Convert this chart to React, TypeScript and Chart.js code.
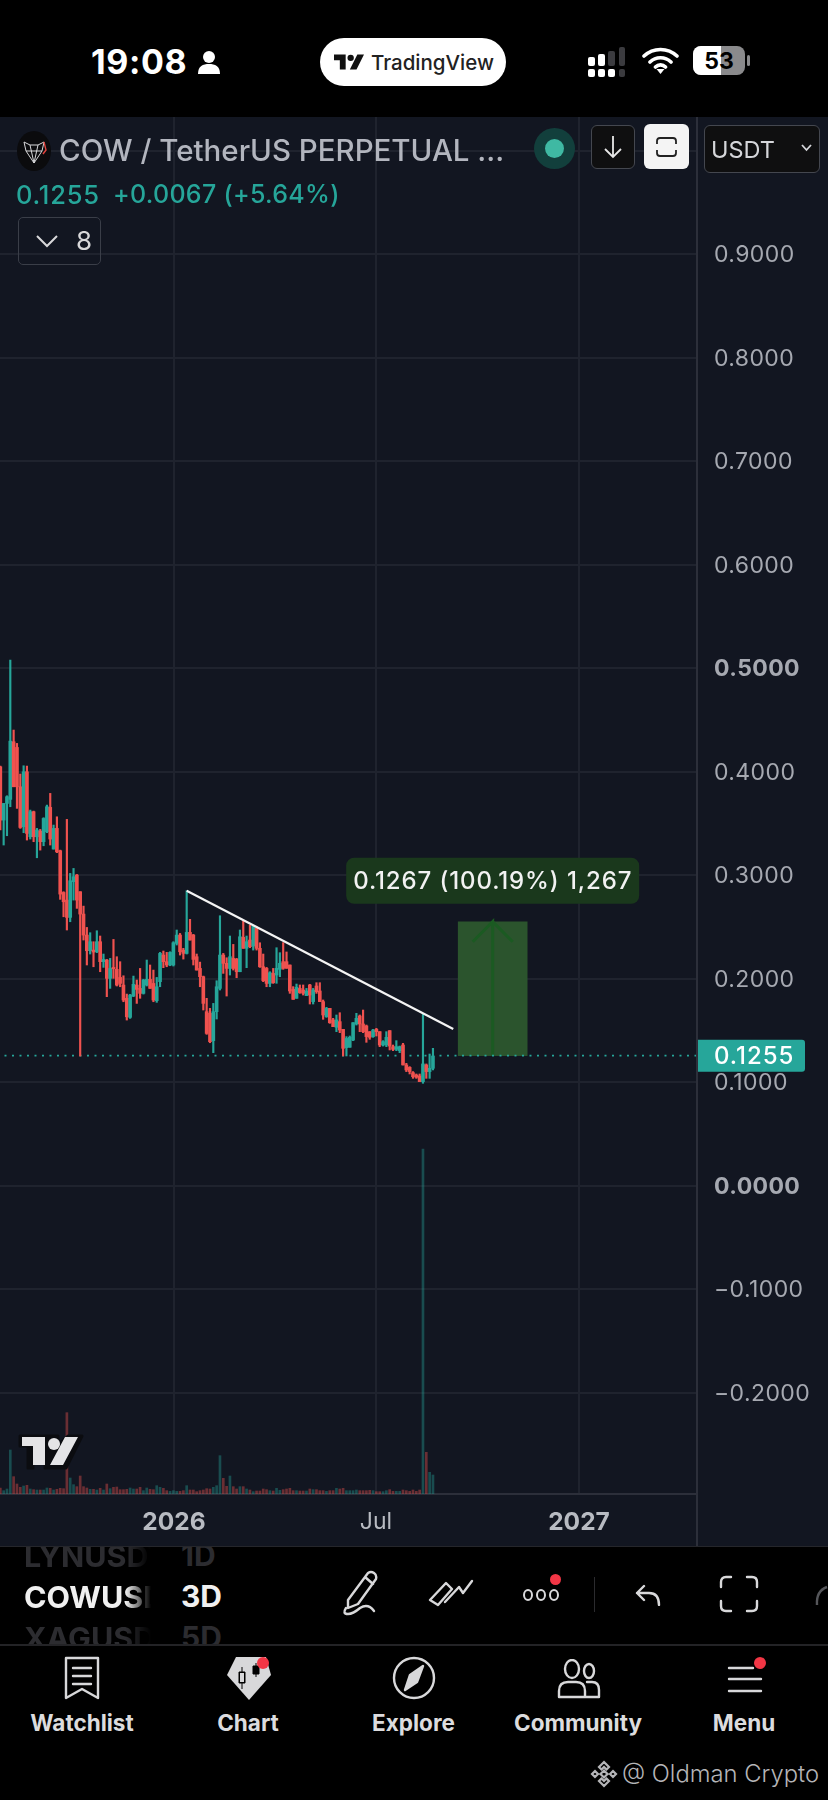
import React, { useEffect, useRef } from "react";
import Chart from "chart.js/auto";

// Candles, one every three days.
const opens = [.4046,.3531,.3692,.3731,.4288,.4233,.3853,.3467,.3998,.3370,.3612,.3370,.3425,.3322,.3419,.3654,.3251,.3451,.3235,.2832,.2758,.2591,.2936,.3000,.2839,.2623,.2420,.2269,.2275,.2259,.2356,.2163,.2179,.2002,.2108,.2089,.2011,.1937,.1809,.1625,.1831,.1937,.1905,.1857,.1937,.1992,.1953,.1786,.1970,.2227,.2163,.2131,.2131,.2340,.2420,.2275,.2243,.2446,.2420,.2211,.2098,.2018,.1680,.1664,.1400,.1680,.1905,.2227,.2147,.2098,.2195,.2188,.2066,.2398,.2292,.2372,.2314,.2485,.2292,.2114,.2098,.1953,.2050,.2034,.2089,.2163,.2163,.2131,.1896,.1809,.1905,.1889,.1835,.1938,.1777,.1928,.1880,.1777,.1632,.1712,.1600,.1529,.1584,.1509,.1332,.1336,.1406,.1561,.1638,.1561,.1542,.1487,.1439,.1509,.1487,.1358,.1358,.1497,.1342,.1316,.1303,.1358,.1165,.1142,.1091,.1068,.1059,.1004,.1165,.1101,.1133];
const highs = [.4053,.3692,.3766,.5077,.4401,.4272,.3976,.4056,.4053,.3628,.3618,.3451,.3441,.3554,.3676,.3789,.3483,.3563,.3241,.2839,.3538,.3016,.3064,.3006,.2839,.2700,.2494,.2443,.2356,.2462,.2411,.2237,.2185,.2195,.2378,.2211,.2163,.2027,.1850,.1847,.2024,.1986,.2098,.1992,.2179,.2131,.2082,.2011,.2253,.2266,.2253,.2259,.2356,.2469,.2436,.2292,.2849,.2572,.2427,.2237,.2159,.2024,.1809,.1712,.1760,.1979,.2607,.2243,.2201,.2411,.2330,.2195,.2469,.2556,.2411,.2517,.2507,.2501,.2346,.2237,.2108,.2066,.2098,.2298,.2250,.2347,.2257,.2131,.1922,.1947,.1938,.1938,.1905,.1944,.1905,.1960,.1960,.1793,.1722,.1712,.1616,.1648,.1670,.1509,.1439,.1445,.1574,.1664,.1648,.1696,.1551,.1487,.1509,.1519,.1487,.1400,.1487,.1497,.1358,.1400,.1348,.1374,.1181,.1149,.1101,.1078,.1078,.1654,.1175,.1271,.1326];
const lows = [.3435,.3290,.3380,.3660,.3853,.3644,.3451,.3409,.3338,.3348,.3322,.3167,.3241,.3283,.3409,.3290,.3251,.3216,.2765,.2597,.2469,.2549,.2758,.2678,.1251,.2372,.2131,.2237,.2114,.2250,.2066,.2108,.1825,.1905,.2002,.1928,.1921,.1776,.1599,.1615,.1825,.1760,.1809,.1850,.1928,.1905,.1776,.1770,.1921,.2105,.2114,.2124,.2121,.2324,.2227,.2188,.2237,.2372,.2131,.2082,.1921,.1696,.1461,.1380,.1284,.1609,.1889,.2050,.1831,.2034,.2082,.2008,.2066,.2292,.2105,.2298,.2275,.2275,.2108,.1970,.1921,.1921,.1953,.1954,.2018,.2089,.2099,.1857,.1799,.1809,.1857,.1841,.1835,.1754,.1754,.1857,.1777,.1606,.1625,.1567,.1535,.1487,.1477,.1252,.1252,.1336,.1400,.1551,.1487,.1477,.1384,.1413,.1432,.1445,.1342,.1348,.1342,.1310,.1303,.1303,.1284,.1165,.1101,.1078,.1036,.1036,.1004,.0988,.1036,.1036,.1117];
const closes = [.3531,.3692,.3757,.4294,.3853,.3853,.3460,.3998,.3402,.3612,.3370,.3435,.3322,.3547,.3660,.3348,.3451,.3225,.2816,.2742,.2591,.2945,.2984,.2758,.2623,.2420,.2269,.2356,.2256,.2356,.2163,.2185,.2002,.2098,.2095,.1937,.1953,.1792,.1631,.1841,.1944,.1895,.1857,.1986,.1992,.1905,.1792,.1921,.2243,.2163,.2131,.2253,.2346,.2420,.2259,.2243,.2446,.2372,.2185,.2082,.2018,.1760,.1470,.1390,.1680,.1921,.2227,.2147,.2098,.2211,.2098,.2066,.2404,.2292,.2356,.2308,.2507,.2292,.2114,.1979,.1953,.2056,.1960,.2099,.2147,.2099,.2099,.1880,.1799,.1915,.1864,.1857,.1880,.1841,.1889,.1873,.1777,.1648,.1712,.1574,.1535,.1600,.1503,.1326,.1422,.1432,.1574,.1616,.1561,.1487,.1439,.1432,.1503,.1487,.1358,.1390,.1432,.1348,.1316,.1342,.1342,.1165,.1117,.1101,.1052,.1046,.1004,.1175,.1101,.1133,.1252];
const volumes = [18,10,15,132,52,30,20,24,26,15,13,12,12,12,18,17,12,14,17,16,244,48,28,22,54,22,18,14,14,12,17,12,30,16,20,21,13,13,14,18,15,15,20,10,18,14,13,25,20,17,10,8,10,8,8,10,25,12,12,7,10,12,16,15,20,25,115,47,23,54,22,15,22,22,15,12,7,9,9,15,13,10,9,17,11,13,15,17,10,10,9,9,9,15,13,13,10,10,8,10,10,17,15,17,10,10,10,12,10,10,10,11,10,7,7,7,10,13,8,8,8,12,10,8,12,8,12,1035,125,65,57];

const yTickValues = [1.0, 0.9, 0.8, 0.7, 0.6, 0.5, 0.4, 0.3, 0.2, 0.1, 0.0, -0.1, -0.2];
const yTickLabels = ["", "0.9000", "0.8000", "0.7000", "0.6000", "0.5000", "0.4000", "0.3000", "0.2000", "0.1000", "0.0000", "\u22120.1000", "\u22120.2000"];
const yBoldTicks = [0.5, 0.0];
const xTickValues = [52.19, 112.88, 173.88];
const xTickLabels = ["2026", "Jul", "2027"];
const xBoldTicks = ["2026", "2027"];

const lastPrice = 0.1255;
const lastPriceLabel = "0.1255";
const trendX = [56, 136.1];
const trendY = [0.2849, 0.1512];
const rangeX = 147.95;
const rangeFrom = 0.1255;
const rangeTo = 0.2549;
const rangeLabel = "0.1267 (100.19%) 1,267";

const BG = "#121621";
const TEAL = "#26a69a";
const RED = "#f0524f";
const GRID = "#1f232e";
const AXIS = "#2c2f3a";
const FONT = "Inter, 'Noto Sans', sans-serif";

const abs = (l: number, t: number, w?: number, h?: number): React.CSSProperties => ({ position: "absolute", left: l, top: t, width: w, height: h });
const txt = (l: number, cy: number, s: number, c: string, w = 400, extra: React.CSSProperties = {}): React.CSSProperties => ({
  position: "absolute", left: l, top: cy - s, height: s * 2, lineHeight: s * 2 + "px", fontSize: s, color: c, fontWeight: w, fontFamily: FONT, whiteSpace: "nowrap", ...extra,
});

const TvLogo = ({ x, y, w, h, c }: any) => (
  <svg style={abs(x, y, w, h)} viewBox="0 0 36 18">
    <path d="M0 0H14V18H7V7H0Z M28 0H36L27 18H19Z" fill={c} />
    <circle cx="20" cy="4" r="3.8" fill={c} />
  </svg>
);

function ChartPane() {
  const ref = useRef<HTMLCanvasElement>(null);
  useEffect(() => {
    const idx = opens.map((_, i) => i);
    const up = idx.map((i) => closes[i] >= opens[i]);
    const tagPlugin = {
      id: "tags",
      afterDatasetsDraw(c: any) {
        const g = c.ctx, ya = c.scales.y, xa = c.scales.x, area = c.chartArea;
        g.save();
        g.fillStyle = AXIS;
        g.fillRect(area.right - 1, 0, 2, c.height);
        const cx = xa.getPixelForValue(rangeX), top = ya.getPixelForValue(rangeTo);
        g.fillStyle = "#1a381c";
        g.beginPath();
        g.roundRect(cx - 146.5, top - 64, 293, 46, 8);
        g.fill();
        g.fillStyle = "#f2f2f2";
        g.font = "500 24px " + FONT;
        g.letterSpacing = "0.9px";
        g.textAlign = "center";
        g.textBaseline = "middle";
        g.fillText(rangeLabel, cx, top - 40);
        const py = ya.getPixelForValue(lastPrice);
        g.fillStyle = TEAL;
        g.beginPath();
        g.roundRect(area.right + 1, py - 16, 107, 32, [0, 3, 3, 0]);
        g.fill();
        g.fillStyle = "#ffffff";
        g.textAlign = "left";
        g.font = "500 24px " + FONT;
        g.letterSpacing = "1px";
        g.fillText(lastPriceLabel, area.right + 17, py + 1);
        g.restore();
      },
    };
    const chart = new Chart(ref.current as HTMLCanvasElement, {
      type: "bar",
      plugins: [tagPlugin],
      data: {
        datasets: [
          { type: "line", order: 0, data: trendX.map((x, i) => ({ x, y: trendY[i] })), borderColor: "#f4f4f4", borderWidth: 2.2, pointRadius: 0, yAxisID: "y", xAxisID: "x" },
          { type: "bar", order: 1, grouped: false, barThickness: 3, data: idx.map((i) => ({ x: i, y: [opens[i], closes[i]] })), backgroundColor: up.map((u) => (u ? TEAL : RED)), yAxisID: "y", xAxisID: "x" },
          { type: "bar", order: 2, grouped: false, barThickness: 1.5, data: idx.map((i) => ({ x: i, y: [lows[i], highs[i]] })), backgroundColor: up.map((u) => (u ? TEAL : RED)), yAxisID: "y", xAxisID: "x" },
          { type: "line", order: 3, data: [{ x: -1, y: lastPrice }, { x: 210, y: lastPrice }], borderColor: TEAL, borderWidth: 1.6, borderDash: [2, 5.5], pointRadius: 0, yAxisID: "y", xAxisID: "x" },
          { type: "line", order: 4, data: [{ x: rangeX, y: rangeFrom }, { x: rangeX, y: rangeTo }, { x: rangeX - 6, y: rangeTo - 0.0193 }, { x: rangeX, y: rangeTo }, { x: rangeX + 6, y: rangeTo - 0.0193 }], borderColor: "#1b5a22", borderWidth: 3, pointRadius: 0, tension: 0, yAxisID: "y", xAxisID: "x" },
          { type: "bar", order: 5, grouped: false, barThickness: 69, data: [{ x: rangeX, y: [rangeFrom, rangeTo] }], backgroundColor: "#2b542d", yAxisID: "y", xAxisID: "x" },
          { type: "bar", order: 6, grouped: false, barThickness: 2, data: idx.map((i) => ({ x: i, y: volumes[i] })), backgroundColor: up.map((u) => (u ? "rgba(38,166,154,0.38)" : "rgba(240,82,79,0.4)")), yAxisID: "v", xAxisID: "x" },
        ] as any,
      },
      options: {
        responsive: false,
        animation: false,
        devicePixelRatio: 1,
        layout: { padding: 0 },
        plugins: { legend: { display: false }, tooltip: { enabled: false } },
        scales: {
          x: {
            type: "linear", offset: false, min: -0.096, max: 209.34,
            grid: { color: GRID, lineWidth: 2, drawTicks: false, offset: false },
            border: { color: AXIS, width: 2 },
            afterBuildTicks: (s: any) => { s.ticks = xTickValues.map((value) => ({ value })); },
            afterFit: (s: any) => { s.height = 52; s.paddingLeft = 0; s.paddingRight = 0; },
            ticks: {
              autoSkip: false, maxRotation: 0, padding: 14,
              callback: (v: any) => xTickLabels[xTickValues.indexOf(v)],
              color: "#b8bbc2",
              font: (ctx: any) => {
                const bold = xBoldTicks.includes(xTickLabels[xTickValues.indexOf(ctx.tick?.value)]);
                return { family: FONT, size: bold ? 24.5 : 23, weight: bold ? 700 : 400 };
              },
            },
          },
          y: {
            type: "linear", position: "right", min: -0.298, max: 1.0324,
            grid: { color: GRID, lineWidth: 2, drawTicks: false },
            border: { display: false },
            afterBuildTicks: (s: any) => { s.ticks = yTickValues.map((value) => ({ value })); },
            afterFit: (s: any) => {
              s.width = 131; s.paddingTop = 0; s.paddingBottom = 0;
              if (!s.__wrapped) {
                s.__wrapped = true;
                const draw = s.drawLabels.bind(s);
                s.drawLabels = (area: any) => {
                  const g = s.ctx;
                  g.save();
                  g.translate(0, 1.5);
                  g.letterSpacing = "0.4px";
                  draw(area);
                  g.restore();
                };
              }
            },
            ticks: {
              padding: 17, align: "center", crossAlign: "near", autoSkip: false,
              callback: (v: any) => yTickLabels[yTickValues.indexOf(v)],
              color: "#a6a9b1",
              font: (ctx: any) => ({ family: FONT, size: 23, weight: yBoldTicks.includes(ctx.tick?.value) ? 700 : 400 }),
            },
          },
          v: { type: "linear", display: false, min: 0, max: 4131 },
        },
      } as any,
    });
    return () => chart.destroy();
  }, []);
  return <canvas ref={ref} width={828} height={1429} style={{ ...abs(0, 117, 828, 1429), display: "block" }} />;
}

const Btn = ({ x, y, w, h, bg, bd }: any) => (
  <div style={{ ...abs(x, y, w, h), background: bg, border: bd ? `1.5px solid ${bd}` : "none", borderRadius: 6, boxSizing: "border-box" }} />
);

const stroke = { fill: "none", stroke: "#d8d8da", strokeWidth: 2.4, strokeLinecap: "round", strokeLinejoin: "round" } as any;

function Chrome() {
  return (
    <>
      {/* Status bar */}
      <div style={txt(91, 62, 34, "#fff", 700, { letterSpacing: 0.6 })}>19:08</div>
      <svg style={abs(197, 50, 24, 24)} viewBox="0 0 24 24"><circle cx="12" cy="7" r="6" fill="#fff" /><path d="M1 24c0-8 5-10 11-10s11 2 11 10z" fill="#fff" /></svg>
      <div style={{ ...abs(320, 38, 186, 48), background: "#fff", borderRadius: 24 }} />
      <TvLogo x={334} y={54} w={30} h={16} c="#111" />
      <div style={txt(371, 62, 20.5, "#222", 500)}>TradingView</div>
      <svg style={abs(586, 44, 44, 34)} viewBox="0 0 44 34">
        {[[2, 13, 7, 9, 1], [12, 10, 7, 12, 1], [22, 7, 7, 15, 0], [33, 3, 6, 19, 0], [2, 25, 7, 8, 1], [12, 25, 7, 8, 1], [22, 25, 7, 8, 1], [33, 25, 6, 8, 0]].map((b, i) => (
          <rect key={i} x={b[0]} y={b[1]} width={b[2]} height={b[3]} rx="2" fill={b[4] ? "#fff" : "#3b3b3f"} />
        ))}
      </svg>
      <svg style={abs(642, 46, 37, 28)} viewBox="0 0 37 28">
        <path d="M2 10a24 24 0 0 1 33 0M8 16a15 15 0 0 1 21 0M13.5 21a7 7 0 0 1 10 0" fill="none" stroke="#fff" strokeWidth="3.6" strokeLinecap="round" />
        <path d="M18.5 28l-4-5h8z" fill="#fff" />
      </svg>
      <div style={{ ...abs(693, 46, 52, 29), background: "#8a8a8c", borderRadius: 8, overflow: "hidden" }}>
        <div style={{ ...abs(0, 0, 28, 29), background: "#fff" }} />
      </div>
      <div style={{ ...abs(747, 55, 3, 11), background: "#8a8a8c", borderRadius: 2 }} />
      <div style={{ ...txt(693, 60.5, 23, "#000", 700), width: 52, textAlign: "center" }}>53</div>

      {/* Chart header */}
      <svg style={abs(17, 131, 34, 40)} viewBox="0 0 34 40">
        <ellipse cx="17" cy="20" rx="17" ry="20" fill="#0b0b0d" />
        <path d="M7 11l6 3h8l6-3-2 9-8 12-8-12zM13 14l4 18M21 14l-4 18M9 20h16" fill="none" stroke="#d8d8da" strokeWidth="1" />
        <path d="M27 11l2 8-3 4" fill="none" stroke="#e2453f" strokeWidth="1.4" />
      </svg>
      <div style={txt(59, 150, 29.5, "#b2b5be", 500)}>COW / TetherUS PERPETUAL ...</div>
      <div style={{ ...abs(534, 128, 41, 41), background: "#123f3c", borderRadius: "50%" }} />
      <div style={{ ...abs(545, 139, 19, 19), background: "#3fb9a3", borderRadius: "50%" }} />
      <Btn x={591} y={125} w={44} h={44} bg="#0f0f10" bd="#44474f" />
      <svg style={abs(603, 135, 20, 24)} viewBox="0 0 20 24"><path d="M10 1v21M2 14l8 8 8-8" fill="none" stroke="#e8e8e8" strokeWidth="1.8" /></svg>
      <Btn x={644} y={124} w={45} h={45} bg="#f4f4f4" />
      <svg style={abs(656, 137, 21, 20)} viewBox="0 0 21 20"><path d="M1 7V4q0-3 3-3h13q3 0 3 3v3M1 13v3q0 3 3 3h13q3 0 3-3v-3" fill="none" stroke="#222" strokeWidth="1.8" /></svg>
      <Btn x={704} y={125} w={116} h={48} bg="#0f0f10" bd="#44474f" />
      <div style={txt(711, 149, 23.5, "#d5d6da", 400)}>USDT</div>
      <svg style={abs(801, 144, 11, 8)} viewBox="0 0 11 8"><path d="M1 1l4.500 5L10 1" fill="none" stroke="#d5d6da" strokeWidth="1.8" /></svg>
      <div style={txt(16, 194, 25.5, TEAL, 500, { letterSpacing: 0.8 })}>0.1255</div>
      <div style={txt(113, 194, 25, TEAL, 500, { letterSpacing: 0.3 })}>+0.0067 (+5.64%)</div>
      <div style={{ ...abs(18, 217, 83, 48), border: "1.5px solid #3a3e48", borderRadius: 5, boxSizing: "border-box" }} />
      <svg style={abs(35, 234, 24, 14)} viewBox="0 0 24 14"><path d="M2 2l10 10L22 2" fill="none" stroke="#d8d8da" strokeWidth="2" /></svg>
      <div style={txt(76, 241, 26, "#d8d8da", 400)}>8</div>

      {/* Watermark */}
      <svg style={abs(18, 1434, 66, 36)} viewBox="0 0 66 36">
        <path d="M2 2H40V11L50 2H64L48 34H27V24H15V34H10V12H2Z" fill="#0b0c10" stroke="#0b0c10" strokeWidth="3" strokeLinejoin="round" />
        <path d="M4 3H27V31H15V12H4Z M47 3H60L45 31H32Z" fill="#e4e4e6" />
        <circle cx="36" cy="10" r="6" fill="#e4e4e6" />
      </svg>

      {/* Symbol wheel */}
      <div style={{ ...abs(0, 1546, 828, 254), background: "#000" }} />
      <div style={{ ...abs(0, 1546, 828, 1), background: "#25262b" }} />
      <div style={{ ...abs(24, 1547, 127, 97), overflow: "hidden", WebkitMaskImage: "linear-gradient(to right,#000 80%,transparent 100%)" as any, maskImage: "linear-gradient(to right,#000 80%,transparent 100%)" } as any}>
        <div style={txt(0, 8, 30.5, "#2c2c30", 700)}>LYNUSDT</div>
        <div style={txt(0, 49, 30.5, "#f0f0f0", 700)}>COWUSDT</div>
        <div style={txt(0, 90, 30.5, "#2c2c30", 700)}>XAGUSDT</div>
      </div>
      <div style={{ ...abs(181, 1547, 60, 97), overflow: "hidden" }}>
        <div style={txt(0, 8, 30, "#2c2c30", 700)}>1D</div>
        <div style={txt(0, 49, 30, "#f0f0f0", 700)}>3D</div>
        <div style={txt(0, 90, 30, "#2c2c30", 700)}>5D</div>
      </div>

      {/* Toolbar */}
      <svg style={abs(340, 1570, 44, 46)} viewBox="0 0 44 46">
        <path d="M8 30L28 3q3-2 6 0t2 6L18 34l-10 4zM25 7l8 7" {...stroke} />
        <path d="M6 38q-4 6 2 6 5 0 12-6 8-5 14 3" {...stroke} />
      </svg>
      <svg style={abs(428, 1578, 46, 30)} viewBox="0 0 46 30">
        <path d="M2 22L18 5l6 6-14 16zM17 24L31 9l4 6 9-12" {...stroke} />
      </svg>
      {[528, 541, 554].map((x) => <div key={x} style={{ ...abs(x - 5, 1589, 10, 12), border: "2.2px solid #d8d8da", borderRadius: "50%", boxSizing: "border-box" }} />)}
      <div style={{ ...abs(550, 1574, 11, 11), background: "#f23645", borderRadius: "50%" }} />
      <div style={{ ...abs(594, 1577, 1, 35), background: "#2b2b2e" }} />
      <svg style={abs(634, 1584, 28, 22)} viewBox="0 0 28 22"><path d="M10 2L3 9l7 7M3 9h12q10 0 10 12" {...stroke} /></svg>
      <svg style={abs(719, 1575, 40, 38)} viewBox="0 0 40 38"><path d="M2 12V7q0-5 5-5h5M28 2h5q5 0 5 5v5M2 26v5q0 5 5 5h5M28 36h5q5 0 5-5v-5" {...stroke} /></svg>
      <svg style={abs(814, 1585, 14, 22)} viewBox="0 0 14 22"><path d="M3 20Q2 6 13 2" fill="none" stroke="#55565a" strokeWidth="2.4" /></svg>

      {/* Tab bar */}
      <div style={{ ...abs(0, 1644, 828, 1.5), background: "#232326" }} />
      <svg style={abs(64, 1656, 36, 44)} viewBox="0 0 36 44"><path d="M2 2H34V42L18 33 2 42ZM9 12H27M9 20H27M9 28H27" {...stroke} /></svg>
      <svg style={abs(226, 1655, 46, 46)} viewBox="0 0 46 46"><path d="M10 2H40L45 20 23 45 1 20Z" fill="#d8d8da" /><path d="M16 12v22M13 17h6v11h-6zM30 8v14M27 11h6v8h-6z" fill="#000" stroke="#000" strokeWidth="1" /><path d="M14 18h4v9h-4z" fill="#d8d8da" /></svg>
      <div style={{ ...abs(257, 1657, 12, 12), background: "#f23645", borderRadius: "50%" }} />
      <svg style={abs(392, 1656, 44, 44)} viewBox="0 0 44 44"><circle cx="22" cy="22" r="20" {...stroke} /><path d="M31 10L25 26 13 34l5-15z" {...stroke} fill="#d8d8da" /></svg>
      <svg style={abs(557, 1659, 44, 40)} viewBox="0 0 44 40"><ellipse cx="15" cy="10" rx="7" ry="9" {...stroke} /><ellipse cx="32" cy="12" rx="5" ry="7" {...stroke} /><path d="M2 38v-6q0-9 9-9h8q9 0 9 9v6zM30 23h5q7 0 7 8v7H28" {...stroke} /></svg>
      <svg style={abs(727, 1664, 36, 30)} viewBox="0 0 36 30"><path d="M2 4H26M2 15H34M2 27H34" {...stroke} /></svg>
      <div style={{ ...abs(754, 1657, 12, 12), background: "#f23645", borderRadius: "50%" }} />
      {[["Watchlist", 82], ["Chart", 248], ["Explore", 413.5], ["Community", 578], ["Menu", 744]].map(([t, x]) => (
        <div key={t as string} style={{ ...txt((x as number) - 80, 1722, 22.5, "#dcdcde", 700), width: 160, textAlign: "center" }}>{t}</div>
      ))}

      {/* Credit */}
      <svg style={abs(590, 1760, 28, 28)} viewBox="0 0 28 28" fill="none" stroke="#b5b5b8" strokeWidth="2.2">
        <path d="M14 2l5 5-2.500 2.500L14 7l-2.500 2.500L9 7zM14 26l5-5-2.500-2.500L14 21l-2.500-2.500L9 21z" />
        <path d="M2 14l3-3 3 3-3 3zM20 14l3-3 3 3-3 3zM14 10.500l3.500 3.500-3.500 3.500-3.500-3.500z" />
      </svg>
      <div style={txt(622, 1774, 23.8, "#b5b5b8", 300)}>@ Oldman Crypto</div>
    </>
  );
}

export default function App() {
  return (
    <div style={{ ...abs(0, 0, 828, 1800), background: "#000", overflow: "hidden" }}>
      <div style={{ ...abs(0, 117, 828, 1429), background: BG }} />
      <ChartPane />
      <Chrome />
    </div>
  );
}
